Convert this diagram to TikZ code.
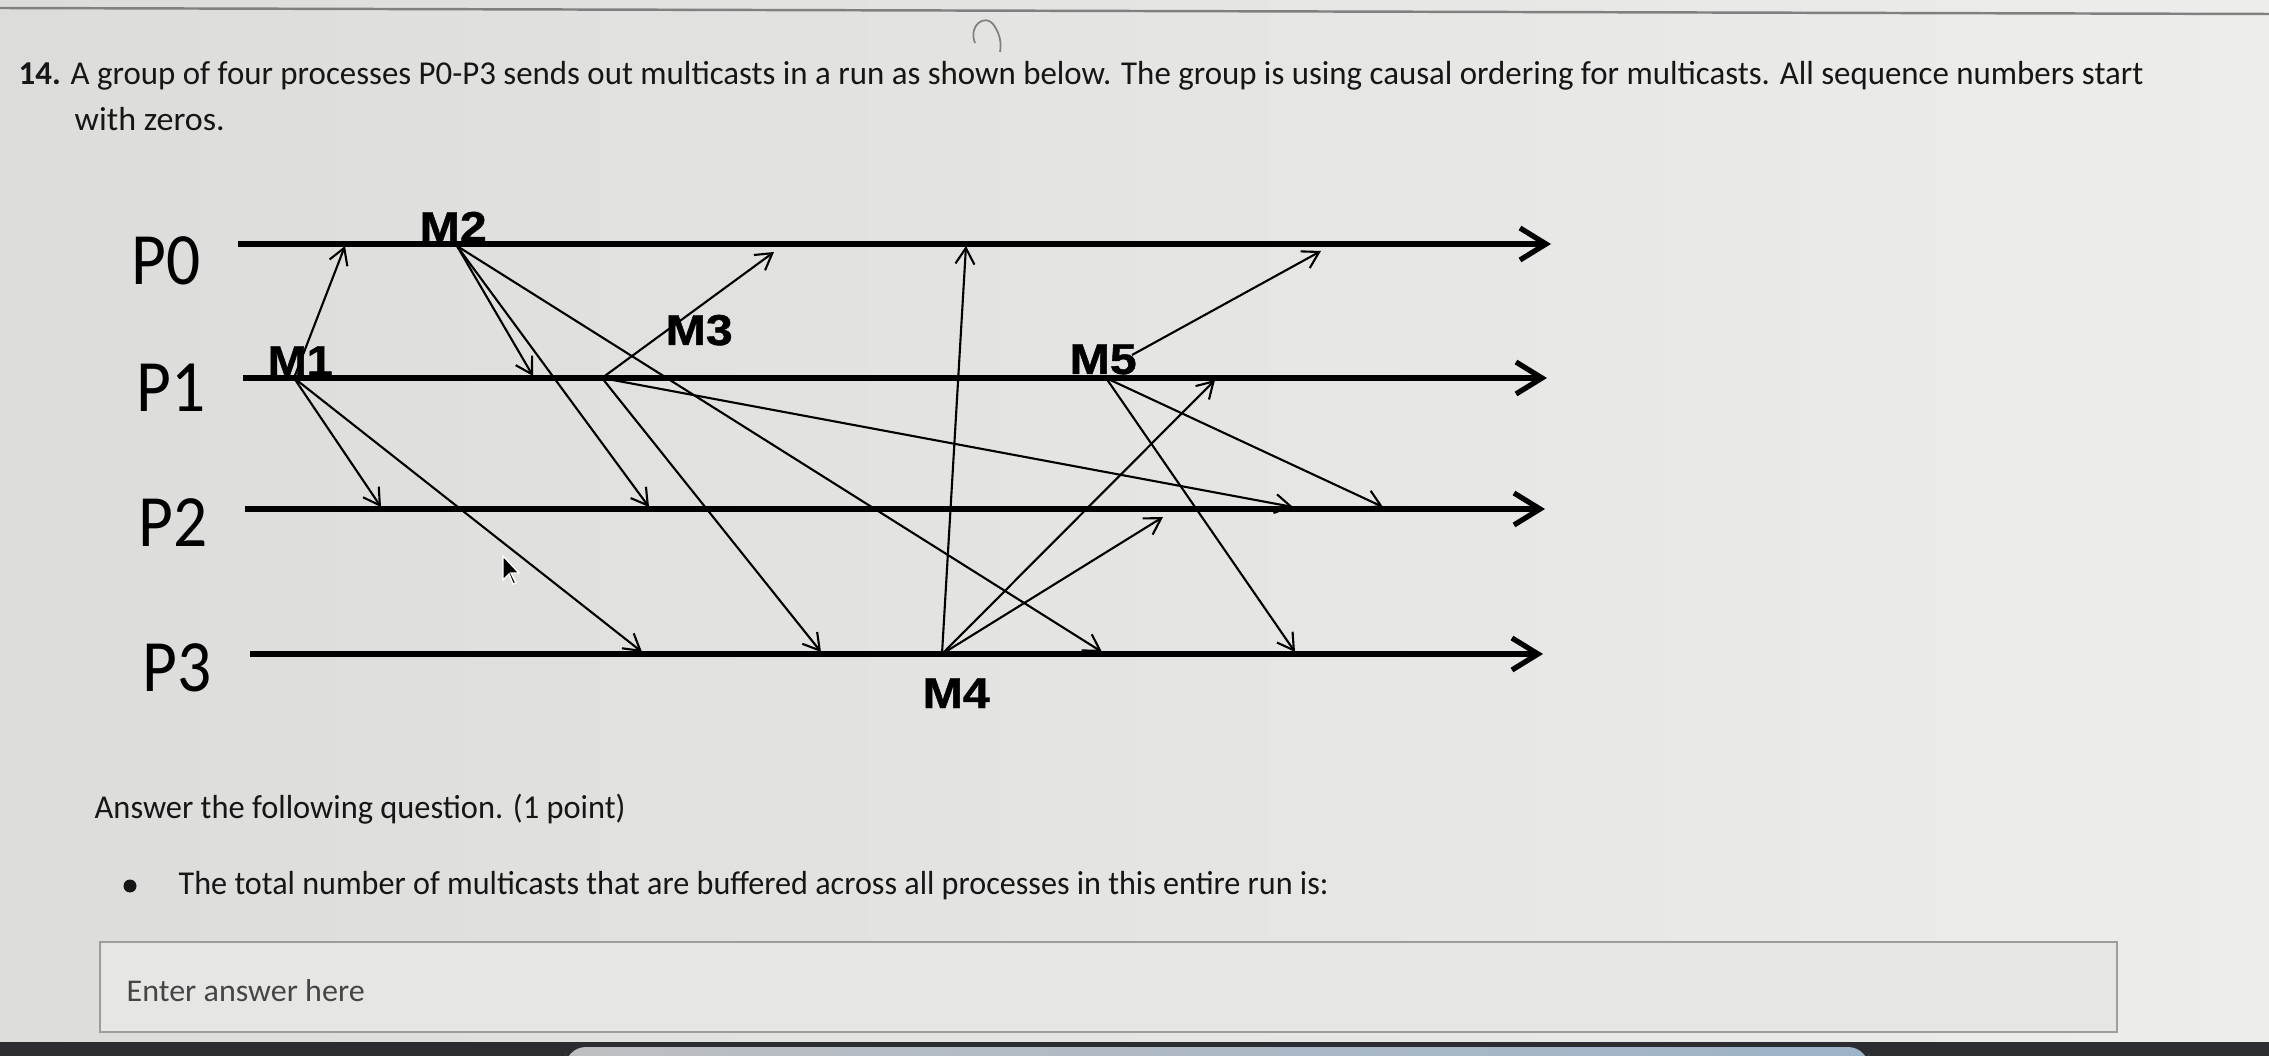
\documentclass[tikz,border=0pt]{standalone}
\usepackage{fontspec}
\usepackage{graphicx}
\setmainfont{Carlito}
\newfontfamily\mfont{Liberation Sans Bold}[FakeBold=1]
\usetikzlibrary{arrows.meta}

\definecolor{paperL}{HTML}{DCDDDA}
\definecolor{paperR}{HTML}{EDEEEC}
\definecolor{ink}{HTML}{161616}
\definecolor{hint}{HTML}{454545}
\definecolor{boxline}{HTML}{9C9E9C}
\definecolor{boxfill}{HTML}{E6E7E4}
\definecolor{bezel}{HTML}{2B2D31}
\definecolor{tabL}{HTML}{BDBFC2}
\definecolor{tabR}{HTML}{9DB3C8}

\newlength\fitw
\newcommand\fitline[2]{\settowidth\fitw{#2}\pgfmathsetmacro\fitsc{#1/\fitw}\scalebox{\fitsc}[1]{#2}}

\begin{document}
\begin{tikzpicture}[x=0.1mm, y=-0.1mm,
        proc/.style={line width=1.5pt, -{Straight Barb[length=2.6mm,width=3.2mm]}},
        msg/.style={line width=0.6pt, -{Straight Barb[length=1.6mm,width=1.9mm]}},
        plabel/.style={anchor=base west, inner sep=0pt, font=\fontsize{21}{21}\selectfont},
        mlabel/.style={anchor=base west, inner sep=0pt, font=\mfont\fontsize{12.3}{12.3}\selectfont},
        txt/.style={anchor=base west, inner sep=0pt, text=ink, font=\fontsize{9.5}{9.5}\selectfont}]

        \useasboundingbox (0,0) rectangle (2269,1056);
        \shade[left color=paperL, right color=paperR] (0,0) rectangle (2269,1056);
        \draw[gray, line width=0.7pt] (0,8) -- (2269,14);
        \draw[gray, line width=0.5pt] (975,43) .. controls (968,25) and (985,14) .. (993,24) .. controls (999,32) and (1002,42) .. (1000,52);

        \node[txt] (q1) at (18,85) {\fitline{212.5mm}{\textbf{14.} A group of four processes P0-P3 sends out multicasts in a run as shown below. The group is using causal ordering for multicasts. All sequence numbers start}};
        \node[txt] (q2) at (74,131) {\fitline{15mm}{with zeros.}};

        \node[plabel] (P0) at (131,285) {\fitline{6.9mm}{P0}};
        \node[plabel] (P1) at (136,412) {\fitline{6.9mm}{P1}};
        \node[plabel] (P2) at (138,547) {\fitline{6.9mm}{P2}};
        \node[plabel] (P3) at (142,692) {\fitline{6.9mm}{P3}};

        \coordinate (p0a) at (238,244); \coordinate (p0b) at (1551,244);
        \coordinate (p1a) at (243,378); \coordinate (p1b) at (1547,378);
        \coordinate (p2a) at (245,509); \coordinate (p2b) at (1545,509);
        \coordinate (p3a) at (250,654); \coordinate (p3b) at (1543,654);
        \foreach \i in {0,1,2,3}
            \draw[proc] (p\i a) -- (p\i b);

        \coordinate (m1) at (294,378);
        \coordinate (m2) at (457,246);
        \coordinate (m3) at (602,378);
        \coordinate (m4) at (942,654);
        \coordinate (m5) at (1106,378);
        \coordinate (m5x) at (1132,355);

        \coordinate (m1p0) at (345,246);
        \coordinate (m1p2) at (381,507);
        \coordinate (m1p3) at (642,652);
        \coordinate (m2p1) at (533,376);
        \coordinate (m2p2) at (649,507);
        \coordinate (m2p3) at (1102,652);
        \coordinate (m3p0) at (774,252);
        \coordinate (m3p2) at (1293,507);
        \coordinate (m3p3) at (821,652);
        \coordinate (m4p0) at (966,246);
        \coordinate (m4p1) at (1215,380);
        \coordinate (m4p2) at (1163,517);
        \coordinate (m5p0) at (1321,251);
        \coordinate (m5p2) at (1383,507);
        \coordinate (m5p3) at (1295,652);

        \foreach \a/\b in {m1/m1p0, m1/m1p2, m1/m1p3, m2/m2p1, m2/m2p2, m2/m2p3,
                m3/m3p0, m3/m3p2, m3/m3p3, m4/m4p0, m4/m4p1, m4/m4p2,
                m5x/m5p0, m5/m5p2, m5/m5p3}
            \draw[msg] (\a) -- (\b);

        \node[mlabel] (M1) at (267,376) {\fitline{6.5mm}{M1}};
        \node[mlabel] (M2) at (419,242) {\fitline{6.7mm}{M2}};
        \node[mlabel] (M3) at (665,345) {\fitline{6.7mm}{M3}};
        \node[mlabel] (M4) at (922,708) {\fitline{6.7mm}{M4}};
        \node[mlabel] (M5) at (1069,374) {\fitline{6.7mm}{M5}};

        \filldraw[fill=black, draw=white, line width=0.4pt] (503,556) -- ++(0,24) -- ++(6,-6) -- ++(4,10) -- ++(3,-1) -- ++(-5,-10) -- ++(8,0) -- cycle;

        \node[txt] (ans) at (94,818) {\fitline{53.1mm}{Answer the following question. (1 point)}};
        \fill[ink] (130,886) circle (6.5);
        \node[txt] (q3) at (178,894) {\fitline{115mm}{The total number of multicasts that are buffered across all processes in this entire run is:}};

        \draw[boxline, line width=0.6pt, fill=boxfill] (100,942) rectangle (2117,1032);
        \node[txt, text=hint, font=\fontsize{9}{9}\selectfont] (hint) at (126,1001) {\fitline{23.8mm}{Enter answer here}};

        \fill[bezel] (0,1042) rectangle (2269,1056);
        \shade[left color=tabL, right color=tabR, rounded corners=6] (565,1047) rectangle (1869,1075);

    \end{tikzpicture}
\end{document}
